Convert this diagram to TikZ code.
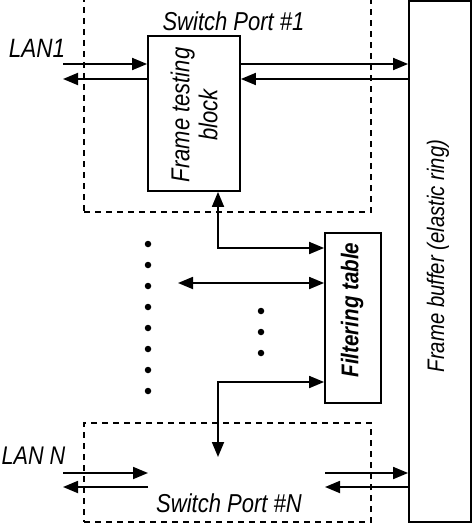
\documentclass[tikz,border=0pt]{standalone}
\usepackage{fontspec}
\setmainfont[FakeStretch=0.85]{Liberation Sans}
\usetikzlibrary{arrows.meta}
\begin{document}
\begin{tikzpicture}[x=1pt,y=-1pt,
  lbl/.style={font=\fontsize{25.9}{28}\selectfont\itshape, inner sep=0pt},
  blk/.style={draw, line width=1.8pt, inner sep=0pt},
  dbox/.style={draw, line width=1.8pt, dash pattern=on 6pt off 5pt, inner sep=0pt},
  conn/.style={line width=1.8pt, -{Triangle[length=15pt,width=12pt]}},
  dbl/.style={line width=1.8pt, {Triangle[length=15pt,width=12pt]}-{Triangle[length=15pt,width=12pt]}},
  bigdot/.style={circle, fill, inner sep=0pt, minimum size=6.5pt}]
\useasboundingbox (0,0) rectangle (474,524);
% dashed port boxes
\node[dbox, minimum width=287pt, minimum height=217pt] (port1) at (227.5,103.5) {};
\node[dbox, minimum width=287pt, minimum height=99pt] (portN) at (227.5,472.5) {};
% blocks
\node[blk, minimum width=92pt, minimum height=155pt] (ftb) at (194,113.5) {};
\node[lbl, rotate=90, align=center] (ftbt) at (194,115) {Frame testing\\block};
\node[blk, minimum width=56pt, minimum height=170pt] (ft) at (353,318) {};
\node[lbl, rotate=90, font=\fontsize{24.2}{28}\selectfont\bfseries\itshape] (ftt) at (352,310) {Filtering table};
\node[blk, minimum width=62pt, minimum height=521pt] (fb) at (440,261.5) {};
\node[lbl, rotate=90, font=\fontsize{23.9}{28}\selectfont\itshape] (fbt) at (438,256) {Frame buffer (elastic ring)};
% labels
\node[lbl, font=\fontsize{26.5}{28}\selectfont\itshape] (lan1) at (37,48) {LAN1};
\node[lbl, font=\fontsize{25.5}{28}\selectfont\itshape] (lann) at (33.5,456) {LAN N};
\node[lbl] (sp1) at (233.5,21.5) {Switch Port \#1};
\node[lbl] (spn) at (229,503) {Switch Port \#N};
% LAN1 connectors
\coordinate (l1a) at (63,64);
\coordinate (l1b) at (63,79);
\draw[conn] (l1a) -- (l1a -| ftb.west);
\draw[conn] (l1b -| ftb.west) -- (l1b);
\draw[conn] (l1a -| ftb.east) -- (l1a -| fb.west);
\draw[conn] (l1b -| fb.west) -- (l1b -| ftb.east);
% filtering table links
\coordinate (v1) at (218,248);
\draw[dbl] (v1 |- ftb.south) |- (v1 -| ft.west);
\coordinate (m1) at (178,283);
\draw[dbl] (m1) -- (m1 -| ft.west);
\coordinate (v2) at (218,382);
\coordinate (pn) at (218,457);
\draw[dbl] (pn) |- (v2 -| ft.west);
% LAN N connectors
\coordinate (na) at (63,473);
\coordinate (nb) at (63,487);
\coordinate (nc) at (148,473);
\coordinate (nd) at (148,487);
\coordinate (ne) at (325,473);
\coordinate (nf) at (325,487);
\draw[conn] (na) -- (nc);
\draw[conn] (nd) -- (nb);
\draw[conn] (ne) -- (ne -| fb.west);
\draw[conn] (nf -| fb.west) -- (nf);
% dots
\foreach \i in {0,...,7} \node[bigdot] (dl\i) at (148,244+21*\i) {};
\foreach \i in {0,1,2} \node[bigdot] (dr\i) at (261,311+21*\i) {};
\end{tikzpicture}
\end{document}
